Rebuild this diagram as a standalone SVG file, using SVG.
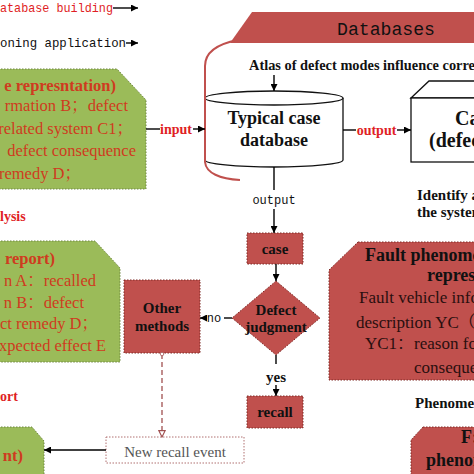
<svg xmlns="http://www.w3.org/2000/svg" width="474" height="474" viewBox="0 0 474 474">
<style>
.rbox{fill:#c0504d;stroke:#7e2a27;stroke-width:1;stroke-dasharray:1.5 1.5}
.gbox{fill:#9bbb59;stroke:#6d8640;stroke-width:1;stroke-dasharray:1.5 1.5}
.serif{font-family:"Liberation Serif","Noto Serif CJK SC","Noto Sans CJK SC",serif}
.mono{font-family:"Liberation Mono","DejaVu Sans Mono",monospace}
.gt{fill:#cf3b20;font-size:16.5px}
.b{font-weight:bold}
.bt{font-weight:bold;fill:#111;font-size:15px}
.dt{fill:#2a0f0f;font-size:17px}
.ln{stroke:#000;stroke-width:1.4;fill:none}
.lr{fill:#e01e25;font-weight:bold;font-size:14px}
</style>
<defs>
<marker id="ah" viewBox="0 0 10 10" refX="10" refY="5" markerWidth="8" markerHeight="7" markerUnits="userSpaceOnUse" orient="auto"><path d="M0,0 L10,5 L0,10 z" fill="#000"/></marker>
<marker id="oh" viewBox="0 0 10 10" refX="9" refY="5" markerWidth="8" markerHeight="8" markerUnits="userSpaceOnUse" orient="auto"><path d="M1,1 L9,5 L1,9 z" fill="#fff" stroke="#a05050" stroke-width="1.4"/></marker>
<marker id="oc" viewBox="0 0 10 10" refX="5" refY="5" markerWidth="5" markerHeight="5" markerUnits="userSpaceOnUse"><circle cx="5" cy="5" r="3.5" fill="#fff" stroke="#a05050" stroke-width="1.5"/></marker>
</defs>

<g id="legend">
<text class="mono" x="0" y="12" font-size="13" fill="#e01e25" textLength="113" lengthAdjust="spacingAndGlyphs">atabase building</text>
<text class="mono" x="0" y="47" font-size="13" fill="#111" textLength="126" lengthAdjust="spacingAndGlyphs">oning application</text>
</g>

<g id="databases">
<path d="M252,12 L474,12 L474,43 L230,43 Z" fill="#c0504d"/>
<text class="mono" x="386" y="35" font-size="19" fill="#111" text-anchor="middle" textLength="98" lengthAdjust="spacingAndGlyphs">Databases</text>
</g>

<g id="atlas">
<text class="serif b" x="249" y="70" font-size="15" fill="#111" textLength="226" lengthAdjust="spacingAndGlyphs">Atlas of defect modes influence corre</text>
</g>

<g id="typical-case-db">
<path d="M205,98 L205,160 A69,7 0 0 0 343,160 L343,98" fill="#fff" stroke="#111" stroke-width="1.3"/>
<ellipse cx="274" cy="98" rx="69" ry="7" fill="#fff" stroke="#111" stroke-width="1.3"/>
<path d="M238,40 C217,44 205,52 205,66 L205,162 C206,173 220,179 240,180" fill="none" stroke="#c0504d" stroke-width="2"/>
<text class="serif b" x="274" y="124" font-size="18" fill="#111" text-anchor="middle">Typical case</text>
<text class="serif b" x="274" y="146" font-size="18" fill="#111" text-anchor="middle">database</text>
</g>

<g id="case-library">
<path d="M411,98 L429,81 L476,81 L476,98 Z" fill="#fff" stroke="#111" stroke-width="1.3"/>
<rect x="411" y="98" width="66" height="64" fill="#fff" stroke="#111" stroke-width="1.3"/>
<text class="serif b" x="455" y="125" font-size="20" fill="#111">Ca</text>
<text class="serif b" x="429" y="147" font-size="20" fill="#111">(defect</text>
</g>

<g id="identify">
<text class="serif b" x="417" y="200" font-size="15" fill="#111">Identify a</text>
<text class="serif b" x="417" y="217" font-size="15" fill="#111">the syster</text>
</g>

<g id="green-1">
<path class="gbox" d="M-2,69 L117,69 L146,100 L146,189 L-2,189 Z"/>
<text class="serif gt b" x="116" y="91" text-anchor="end">e represntation)</text>
<text class="serif gt" x="128" y="111" text-anchor="end">rmation B；defect</text>
<text class="serif gt" x="133" y="134" text-anchor="end">related system C1；</text>
<text class="serif gt" x="136" y="156" text-anchor="end">defect consequence</text>
<text class="serif gt" x="81" y="179" text-anchor="end">remedy D；</text>
</g>

<g id="analysis-label">
<text class="serif lr" x="0" y="221">lysis</text>
</g>

<g id="green-2">
<path class="gbox" d="M-2,241 L95,241 L120,268 L120,362 L-2,362 Z"/>
<text class="serif gt b" x="55" y="264" text-anchor="end">report)</text>
<text class="serif gt" x="96" y="286" text-anchor="end">n A：recalled</text>
<text class="serif gt" x="84" y="308" text-anchor="end">n B：defect</text>
<text class="serif gt" x="98" y="329" text-anchor="end">ct remedy D；</text>
<text class="serif gt" x="106" y="351" text-anchor="end">xpected effect E</text>
</g>

<g id="report-label">
<text class="serif lr" x="0" y="401">ort</text>
</g>

<g id="green-3">
<path class="gbox" d="M-2,427 L32,427 L44,441 L44,476 L-2,476 Z"/>
<text class="serif gt b" x="23" y="461" text-anchor="end">nt)</text>
</g>

<g id="case">
<rect class="rbox" x="247" y="233" width="56" height="31"/>
<text class="serif bt" x="275" y="254" text-anchor="middle" font-size="16">case</text>
</g>

<g id="defect-judgment">
<path class="rbox" d="M276,281 L320,318 L276,355 L232,318 Z"/>
<text class="serif bt" x="276" y="315" text-anchor="middle">Defect</text>
<text class="serif bt" x="276" y="332" text-anchor="middle">judgment</text>
</g>

<g id="other-methods">
<rect class="rbox" x="124" y="280" width="76" height="73"/>
<text class="serif bt" x="162" y="313" text-anchor="middle">Other</text>
<text class="serif bt" x="162" y="331" text-anchor="middle">methods</text>
</g>

<g id="recall">
<rect class="rbox" x="247" y="396" width="56" height="32"/>
<text class="serif bt" x="275" y="417" text-anchor="middle" font-size="16">recall</text>
</g>

<g id="new-recall-event">
<rect x="106" y="437" width="138" height="26" fill="#fff" stroke="#b07070" stroke-width="1" stroke-dasharray="1.5 1.5"/>
<text class="serif" x="175" y="457" text-anchor="middle" font-size="15" fill="#555">New recall event</text>
</g>

<g id="fault-phenomenon">
<path class="rbox" d="M358,242 L476,242 L476,380 L329,380 L329,270 Z"/>
<text class="serif b" x="365" y="261" font-size="18" fill="#111">Fault phenome</text>
<text class="serif b" x="427" y="281" font-size="18" fill="#111">repres</text>
<text class="serif dt" x="359" y="303">Fault vehicle info</text>
<text class="serif dt" x="356" y="328">description YC（</text>
<text class="serif dt" x="365" y="349">YC1：reason fo</text>
<text class="serif dt" x="414" y="373">conseque</text>
</g>

<g id="phenomenon-label">
<text class="serif b" x="415" y="408" font-size="15" fill="#111">Phenome</text>
</g>

<g id="fault-phenomenon-2">
<path class="rbox" d="M423,427 L476,427 L476,476 L411,476 L411,440 Z"/>
<text class="serif b" x="461" y="443" font-size="18" fill="#111">F:</text>
<text class="serif b" x="426" y="466" font-size="18" fill="#111">phenon</text>
</g>

<g id="connectors">
<line class="ln" x1="113" y1="8" x2="138" y2="8" marker-end="url(#ah)" stroke-width="2"/>
<line class="ln" x1="126" y1="43" x2="138" y2="43" marker-end="url(#ah)"/>
<line class="ln" x1="274" y1="75" x2="274" y2="91" marker-end="url(#ah)"/>
<line class="ln" x1="146" y1="129" x2="160" y2="129" stroke-width="2"/>
<text class="serif" x="176" y="134" font-size="14" font-weight="bold" fill="#e01e25" text-anchor="middle">input</text>
<line class="ln" x1="193" y1="129" x2="205" y2="129" marker-end="url(#ah)" stroke-width="2"/>
<line class="ln" x1="343" y1="130" x2="356" y2="130" stroke-width="2"/>
<text class="serif" x="376.5" y="135" font-size="14" font-weight="bold" fill="#e01e25" text-anchor="middle">output</text>
<line class="ln" x1="397" y1="130" x2="411" y2="130" marker-end="url(#ah)" stroke-width="2"/>
<line class="ln" x1="274" y1="167" x2="274" y2="190"/>
<text class="mono" x="274" y="204" font-size="12" fill="#111" text-anchor="middle">output</text>
<line class="ln" x1="274" y1="209" x2="274" y2="233" marker-end="url(#ah)"/>
<line class="ln" x1="276" y1="264" x2="276" y2="281" marker-end="url(#ah)"/>
<line class="ln" x1="232" y1="318" x2="224" y2="318"/>
<text class="mono" x="214" y="322" font-size="12" fill="#111" text-anchor="middle">no</text>
<line class="ln" x1="206" y1="318" x2="200" y2="318" marker-end="url(#ah)"/>
<line class="ln" x1="276" y1="355" x2="276" y2="364"/>
<text class="serif" x="276" y="382" font-size="15" font-weight="bold" fill="#111" text-anchor="middle">yes</text>
<line class="ln" x1="276" y1="385" x2="276" y2="396" marker-end="url(#ah)"/>
<line x1="162" y1="354" x2="162" y2="437" stroke="#a05050" stroke-width="1.3" stroke-dasharray="5 3" marker-start="url(#oc)" marker-end="url(#oh)"/>
<line class="ln" x1="106" y1="450" x2="44" y2="450" marker-end="url(#ah)"/>
</g>
</svg>
